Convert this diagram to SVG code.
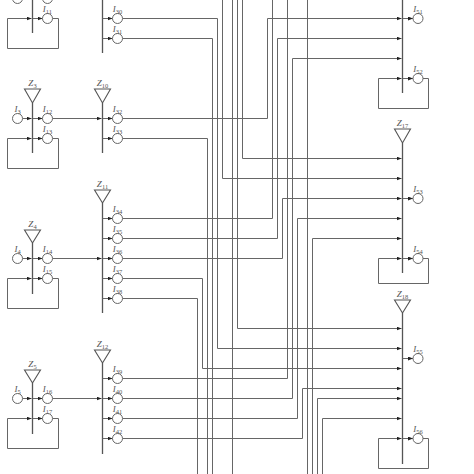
<svg xmlns="http://www.w3.org/2000/svg" width="474" height="474" viewBox="0 0 474 474">
<style>
.w{fill:none;stroke:#666;stroke-width:1}
.b{fill:none;stroke:#555;stroke-width:1.3}
.c{fill:#fff;stroke:#666;stroke-width:1}
.t{fill:#fff;stroke:#555;stroke-width:1.1}
.l{font-family:"Liberation Serif","DejaVu Serif",serif;font-size:9px;fill:#555;text-anchor:middle}
.l .s{font-size:6.5px}
.l .i{font-style:italic}
.ar{marker-end:url(#a)}
</style>
<defs>
<marker id="a" markerWidth="5" markerHeight="4" refX="5" refY="2" orient="auto" markerUnits="userSpaceOnUse"><path d="M0,0 L5,2 L0,4z" fill="#222"/></marker>
</defs>
<g id="connectors">
<path class="b" d="M32.5,-5V33M32.5,103V153M32.5,243V294M32.5,383V434"/>
<path class="b" d="M102.5,-5V53M102.5,103V153M102.5,203V313M102.5,363V454"/>
<path class="b" d="M402.5,-5V93M402.5,143V273M402.5,313V464"/>
<path class="w ar" d="M22.5,118.5H31.5"/><path class="w ar" d="M32.5,118.5H42.5"/>
<path class="w ar" d="M22.5,258.5H31.5"/><path class="w ar" d="M32.5,258.5H42.5"/>
<path class="w ar" d="M22.5,398.5H31.5"/><path class="w ar" d="M32.5,398.5H42.5"/>
<path class="w ar" d="M52.5,18.5H58.5V48.5H7.5V18.5H31.5"/><path class="w ar" d="M32.5,18.5H42.5"/>
<path class="w ar" d="M52.5,138.5H58.5V168.5H7.5V138.5H31.5"/><path class="w ar" d="M32.5,138.5H42.5"/>
<path class="w ar" d="M52.5,278.5H58.5V308.5H7.5V278.5H31.5"/><path class="w ar" d="M32.5,278.5H42.5"/>
<path class="w ar" d="M52.5,418.5H58.5V448.5H7.5V418.5H31.5"/><path class="w ar" d="M32.5,418.5H42.5"/>
<path class="w ar" d="M52.5,118.5H101.5"/>
<path class="w ar" d="M52.5,258.5H101.5"/>
<path class="w ar" d="M52.5,398.5H101.5"/>
<path class="w ar" d="M102.5,18.5H112.5"/><path class="w ar" d="M102.5,38.5H112.5"/>
<path class="w ar" d="M102.5,118.5H112.5"/><path class="w ar" d="M102.5,138.5H112.5"/>
<path class="w ar" d="M102.5,218.5H112.5"/><path class="w ar" d="M102.5,238.5H112.5"/><path class="w ar" d="M102.5,258.5H112.5"/><path class="w ar" d="M102.5,278.5H112.5"/><path class="w ar" d="M102.5,298.5H112.5"/>
<path class="w ar" d="M102.5,378.5H112.5"/><path class="w ar" d="M102.5,398.5H112.5"/><path class="w ar" d="M102.5,418.5H112.5"/><path class="w ar" d="M102.5,438.5H112.5"/>
<path class="w ar" d="M122.5,18.5H217.5V348.5H401.5"/>
<path class="w" d="M122.5,38.5H212.5V480"/>
<path class="w ar" d="M122.5,118.5H267.5V18.5H401.5"/>
<path class="w" d="M122.5,138.5H207.5V480"/>
<path class="w" d="M122.5,218.5H272.5V-5"/>
<path class="w ar" d="M122.5,238.5H277.5V38.5H401.5"/>
<path class="w ar" d="M122.5,258.5H282.5V198.5H401.5"/>
<path class="w ar" d="M122.5,278.5H202.5V368.5H401.5"/>
<path class="w" d="M122.5,298.5H197.5V480"/>
<path class="w" d="M122.5,378.5H287.5V-5"/>
<path class="w ar" d="M122.5,398.5H292.5V58.5H401.5"/>
<path class="w ar" d="M122.5,418.5H297.5V218.5H401.5"/>
<path class="w ar" d="M122.5,438.5H302.5V388.5H401.5"/>
<path class="w ar" d="M222.5,-5V178.5H401.5"/>
<path class="w ar" d="M242.5,-5V158.5H401.5"/>
<path class="w ar" d="M237.5,-5V328.5H401.5"/>
<path class="w" d="M232.5,-5V480"/>
<path class="w" d="M307.5,-5V480"/>
<path class="w ar" d="M312.5,480V238.5H401.5"/>
<path class="w ar" d="M317.5,480V398.5H401.5"/>
<path class="w ar" d="M322.5,480V418.5H401.5"/>
<path class="w ar" d="M402.5,18.5H413"/>
<path class="w ar" d="M423,78.5H428.5V108.5H378.5V78.5H401.5"/><path class="w ar" d="M402.5,78.5H413"/>
<path class="w ar" d="M402.5,198.5H413"/>
<path class="w ar" d="M423,258.5H428.5V283.5H378.5V258.5H401.5"/><path class="w ar" d="M402.5,258.5H413"/>
<path class="w ar" d="M402.5,358.5H413"/>
<path class="w ar" d="M423,438.5H428.5V468.5H378.5V438.5H401.5"/><path class="w ar" d="M402.5,438.5H413"/>
</g>
<g id="I2"><circle class="c" cx="17.5" cy="-1.5" r="5"/></g>
<g id="I10"><circle class="c" cx="47.5" cy="-1.5" r="5"/></g>
<g id="Z3"><path class="t" d="M24.5,89H40.5L32.5,103z"/><text class="l" x="32.5" y="86"><tspan class="i">Z</tspan><tspan class="s" dy="2">3</tspan></text></g>
<g id="Z4"><path class="t" d="M24.5,230H40.5L32.5,243z"/><text class="l" x="32.5" y="227"><tspan class="i">Z</tspan><tspan class="s" dy="2">4</tspan></text></g>
<g id="Z5"><path class="t" d="M24.5,370H40.5L32.5,383z"/><text class="l" x="32.5" y="367"><tspan class="i">Z</tspan><tspan class="s" dy="2">5</tspan></text></g>
<g id="Z10"><path class="t" d="M94.5,89H110.5L102.5,103z"/><text class="l" x="102.5" y="86"><tspan class="i">Z</tspan><tspan class="s" dy="2">10</tspan></text></g>
<g id="Z11"><path class="t" d="M94.5,190H110.5L102.5,203z"/><text class="l" x="102.5" y="187"><tspan class="i">Z</tspan><tspan class="s" dy="2">11</tspan></text></g>
<g id="Z12"><path class="t" d="M94.5,350H110.5L102.5,363z"/><text class="l" x="102.5" y="347"><tspan class="i">Z</tspan><tspan class="s" dy="2">12</tspan></text></g>
<g id="Z17"><path class="t" d="M394.5,129H410.5L402.5,143z"/><text class="l" x="402.5" y="126"><tspan class="i">Z</tspan><tspan class="s" dy="2">17</tspan></text></g>
<g id="Z18"><path class="t" d="M394.5,300H410.5L402.5,313z"/><text class="l" x="402.5" y="297"><tspan class="i">Z</tspan><tspan class="s" dy="2">18</tspan></text></g>
<g id="I11"><circle class="c" cx="47.5" cy="18.5" r="5"/><text class="l" x="47.5" y="11.5"><tspan class="i">I</tspan><tspan class="s" dy="2">11</tspan></text></g>
<g id="I3"><circle class="c" cx="17.5" cy="118.5" r="5"/><text class="l" x="17.5" y="111.5"><tspan class="i">I</tspan><tspan class="s" dy="2">3</tspan></text></g>
<g id="I12"><circle class="c" cx="47.5" cy="118.5" r="5"/><text class="l" x="47.5" y="111.5"><tspan class="i">I</tspan><tspan class="s" dy="2">12</tspan></text></g>
<g id="I13"><circle class="c" cx="47.5" cy="138.5" r="5"/><text class="l" x="47.5" y="131.5"><tspan class="i">I</tspan><tspan class="s" dy="2">13</tspan></text></g>
<g id="I4"><circle class="c" cx="17.5" cy="258.5" r="5"/><text class="l" x="17.5" y="251.5"><tspan class="i">I</tspan><tspan class="s" dy="2">4</tspan></text></g>
<g id="I14"><circle class="c" cx="47.5" cy="258.5" r="5"/><text class="l" x="47.5" y="251.5"><tspan class="i">I</tspan><tspan class="s" dy="2">14</tspan></text></g>
<g id="I15"><circle class="c" cx="47.5" cy="278.5" r="5"/><text class="l" x="47.5" y="271.5"><tspan class="i">I</tspan><tspan class="s" dy="2">15</tspan></text></g>
<g id="I5"><circle class="c" cx="17.5" cy="398.5" r="5"/><text class="l" x="17.5" y="391.5"><tspan class="i">I</tspan><tspan class="s" dy="2">5</tspan></text></g>
<g id="I16"><circle class="c" cx="47.5" cy="398.5" r="5"/><text class="l" x="47.5" y="391.5"><tspan class="i">I</tspan><tspan class="s" dy="2">16</tspan></text></g>
<g id="I17"><circle class="c" cx="47.5" cy="418.5" r="5"/><text class="l" x="47.5" y="411.5"><tspan class="i">I</tspan><tspan class="s" dy="2">17</tspan></text></g>
<g id="I30"><circle class="c" cx="117.5" cy="18.5" r="5"/><text class="l" x="117.5" y="11.5"><tspan class="i">I</tspan><tspan class="s" dy="2">30</tspan></text></g>
<g id="I31"><circle class="c" cx="117.5" cy="38.5" r="5"/><text class="l" x="117.5" y="31.5"><tspan class="i">I</tspan><tspan class="s" dy="2">31</tspan></text></g>
<g id="I32"><circle class="c" cx="117.5" cy="118.5" r="5"/><text class="l" x="117.5" y="111.5"><tspan class="i">I</tspan><tspan class="s" dy="2">32</tspan></text></g>
<g id="I33"><circle class="c" cx="117.5" cy="138.5" r="5"/><text class="l" x="117.5" y="131.5"><tspan class="i">I</tspan><tspan class="s" dy="2">33</tspan></text></g>
<g id="I34"><circle class="c" cx="117.5" cy="218.5" r="5"/><text class="l" x="117.5" y="211.5"><tspan class="i">I</tspan><tspan class="s" dy="2">34</tspan></text></g>
<g id="I35"><circle class="c" cx="117.5" cy="238.5" r="5"/><text class="l" x="117.5" y="231.5"><tspan class="i">I</tspan><tspan class="s" dy="2">35</tspan></text></g>
<g id="I36"><circle class="c" cx="117.5" cy="258.5" r="5"/><text class="l" x="117.5" y="251.5"><tspan class="i">I</tspan><tspan class="s" dy="2">36</tspan></text></g>
<g id="I37"><circle class="c" cx="117.5" cy="278.5" r="5"/><text class="l" x="117.5" y="271.5"><tspan class="i">I</tspan><tspan class="s" dy="2">37</tspan></text></g>
<g id="I38"><circle class="c" cx="117.5" cy="298.5" r="5"/><text class="l" x="117.5" y="291.5"><tspan class="i">I</tspan><tspan class="s" dy="2">38</tspan></text></g>
<g id="I39"><circle class="c" cx="117.5" cy="378.5" r="5"/><text class="l" x="117.5" y="371.5"><tspan class="i">I</tspan><tspan class="s" dy="2">39</tspan></text></g>
<g id="I40"><circle class="c" cx="117.5" cy="398.5" r="5"/><text class="l" x="117.5" y="391.5"><tspan class="i">I</tspan><tspan class="s" dy="2">40</tspan></text></g>
<g id="I41"><circle class="c" cx="117.5" cy="418.5" r="5"/><text class="l" x="117.5" y="411.5"><tspan class="i">I</tspan><tspan class="s" dy="2">41</tspan></text></g>
<g id="I42"><circle class="c" cx="117.5" cy="438.5" r="5"/><text class="l" x="117.5" y="431.5"><tspan class="i">I</tspan><tspan class="s" dy="2">42</tspan></text></g>
<g id="I51"><circle class="c" cx="418" cy="18.5" r="5"/><text class="l" x="418" y="11.5"><tspan class="i">I</tspan><tspan class="s" dy="2">51</tspan></text></g>
<g id="I52"><circle class="c" cx="418" cy="78.5" r="5"/><text class="l" x="418" y="71.5"><tspan class="i">I</tspan><tspan class="s" dy="2">52</tspan></text></g>
<g id="I53"><circle class="c" cx="418" cy="198.5" r="5"/><text class="l" x="418" y="191.5"><tspan class="i">I</tspan><tspan class="s" dy="2">53</tspan></text></g>
<g id="I54"><circle class="c" cx="418" cy="258.5" r="5"/><text class="l" x="418" y="251.5"><tspan class="i">I</tspan><tspan class="s" dy="2">54</tspan></text></g>
<g id="I55"><circle class="c" cx="418" cy="358.5" r="5"/><text class="l" x="418" y="351.5"><tspan class="i">I</tspan><tspan class="s" dy="2">55</tspan></text></g>
<g id="I56"><circle class="c" cx="418" cy="438.5" r="5"/><text class="l" x="418" y="431.5"><tspan class="i">I</tspan><tspan class="s" dy="2">56</tspan></text></g>
</svg>
